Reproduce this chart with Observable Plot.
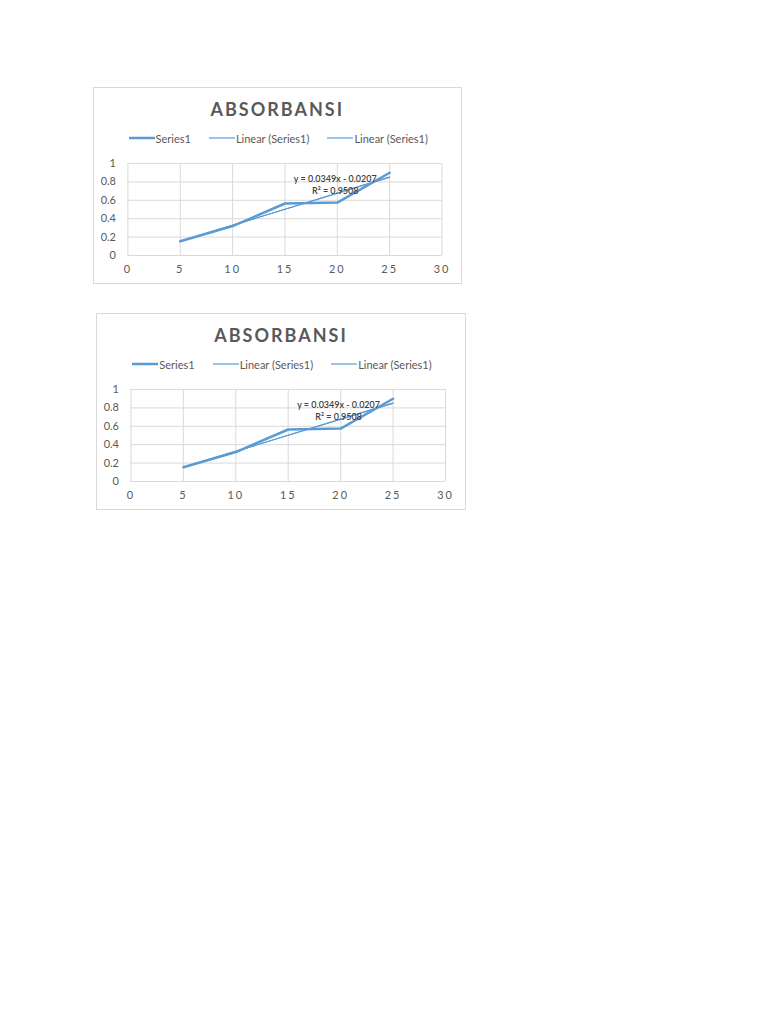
<!DOCTYPE html>
<html>
<head>
<meta charset="utf-8">
<script src="https://cdn.jsdelivr.net/npm/d3@7"></script>
<script src="https://cdn.jsdelivr.net/npm/@observablehq/plot@0.6"></script>
<style>
  html, body { margin: 0; padding: 0; background: #fff; }
  body { width: 768px; height: 1024px; position: relative; overflow: hidden; font-family: Lato, "Open Sans", sans-serif; }
  .box { position: absolute; border: 1px solid #d9d9d9; box-sizing: border-box; background: #fff; }
  .title { position: absolute; left: 0; right: 0; top: 10px; height: 22px; line-height: 22px; text-align: center;
           font-size: 18px; font-weight: bold; letter-spacing: 2px; color: #595959; }
  .legend { position: absolute; left: 0; right: 0; top: 42px; height: 16px; display: flex; justify-content: center;
            align-items: center; gap: 18px; font-size: 11px; color: #595959; padding-left: 2px; }
  .item { display: flex; align-items: center; }
  .item svg { display: block; margin-right: 1px; }
  .plotwrap { position: absolute; left: 0; top: 64.5px; }
</style>
</head>
<body>
<script>
// ---- data ----
const chartTitle = "ABSORBANSI";
const legendLabels = ["Series1", "Linear (Series1)", "Linear (Series1)"];
const concentration = [5, 10, 15, 20, 25];
const absorbance = [0.155, 0.32, 0.565, 0.575, 0.899];
const xTicks = [0, 5, 10, 15, 20, 25, 30];
const yTicks = [0, 0.2, 0.4, 0.6, 0.8, 1];
const trendLabel = ["y = 0.0349x - 0.0207", "R\u00b2 = 0.9508"];
const trendLabelAt = [{x: 19.8, y: 0.772}];
const charts = [
  {left: 92.5, top: 87, width: 369.5, height: 197},
  {left: 96, top: 313, width: 370, height: 197}
];

const blue = "#5b9bd5";
const grid = "#d9d9d9";
const table = concentration.map((c, i) => ({x: c, y: absorbance[i]}));

function legendSwatch(w) {
  const ns = "http://www.w3.org/2000/svg";
  const s = document.createElementNS(ns, "svg");
  s.setAttribute("width", 26); s.setAttribute("height", 6);
  const l = document.createElementNS(ns, "line");
  l.setAttribute("x1", 0); l.setAttribute("x2", 26); l.setAttribute("y1", 3); l.setAttribute("y2", 3);
  l.setAttribute("stroke", blue); l.setAttribute("stroke-width", w);
  s.appendChild(l);
  return s;
}

function makeChart(cfg) {
  const box = document.createElement("div");
  box.className = "box";
  Object.assign(box.style, {left: cfg.left + "px", top: cfg.top + "px", width: cfg.width + "px", height: cfg.height + "px"});

  const t = document.createElement("div");
  t.className = "title"; t.textContent = chartTitle;
  box.appendChild(t);

  const lg = document.createElement("div");
  lg.className = "legend";
  legendLabels.forEach((lab, i) => {
    const it = document.createElement("div");
    it.className = "item";
    it.appendChild(legendSwatch(i === 0 ? 2.5 : 1.2));
    const sp = document.createElement("span"); sp.textContent = lab;
    it.appendChild(sp);
    lg.appendChild(it);
  });
  box.appendChild(lg);

  const plot = Plot.plot({
    width: cfg.width - 1,
    height: 128,
    marginTop: 10,
    marginBottom: 25.7,
    marginLeft: 33.5,
    marginRight: 20,
    x: {domain: [0, 30], ticks: xTicks, tickSize: 0, tickPadding: 10, label: null},
    y: {domain: [0, 1], ticks: yTicks, tickSize: 0, tickPadding: 12, label: null,
        tickFormat: d => String(+d.toFixed(1))},
    style: {fontFamily: "Lato, 'Open Sans', sans-serif", fontSize: "11px", color: "#595959", background: "transparent", overflow: "visible"},
    marks: [
      Plot.ruleX(xTicks, {stroke: grid, strokeWidth: 1}),
      Plot.ruleY(yTicks, {stroke: grid, strokeWidth: 1}),
      Plot.linearRegressionY(table, {x: "x", y: "y", ci: 0, stroke: blue, strokeWidth: 1.1}),
      Plot.linearRegressionY(table, {x: "x", y: "y", ci: 0, stroke: blue, strokeWidth: 1.1}),
      Plot.line(table, {x: "x", y: "y", stroke: blue, strokeWidth: 2.5, strokeLinejoin: "round", strokeLinecap: "round"}),
      Plot.text(trendLabelAt, {x: "x", y: "y", text: () => trendLabel.join("\n"), fontSize: 9, lineHeight: 1.35,
        fill: "#404040", fontWeight: 600, textAnchor: "middle"})
    ]
  });
  d3.select(plot).selectAll("g[aria-label^='x-axis'] text").attr("letter-spacing", "2px");
  const wrap = document.createElement("div");
  wrap.className = "plotwrap";
  wrap.appendChild(plot);
  box.appendChild(wrap);
  document.body.appendChild(box);
}

charts.forEach(makeChart);
</script>
</body>
</html>
